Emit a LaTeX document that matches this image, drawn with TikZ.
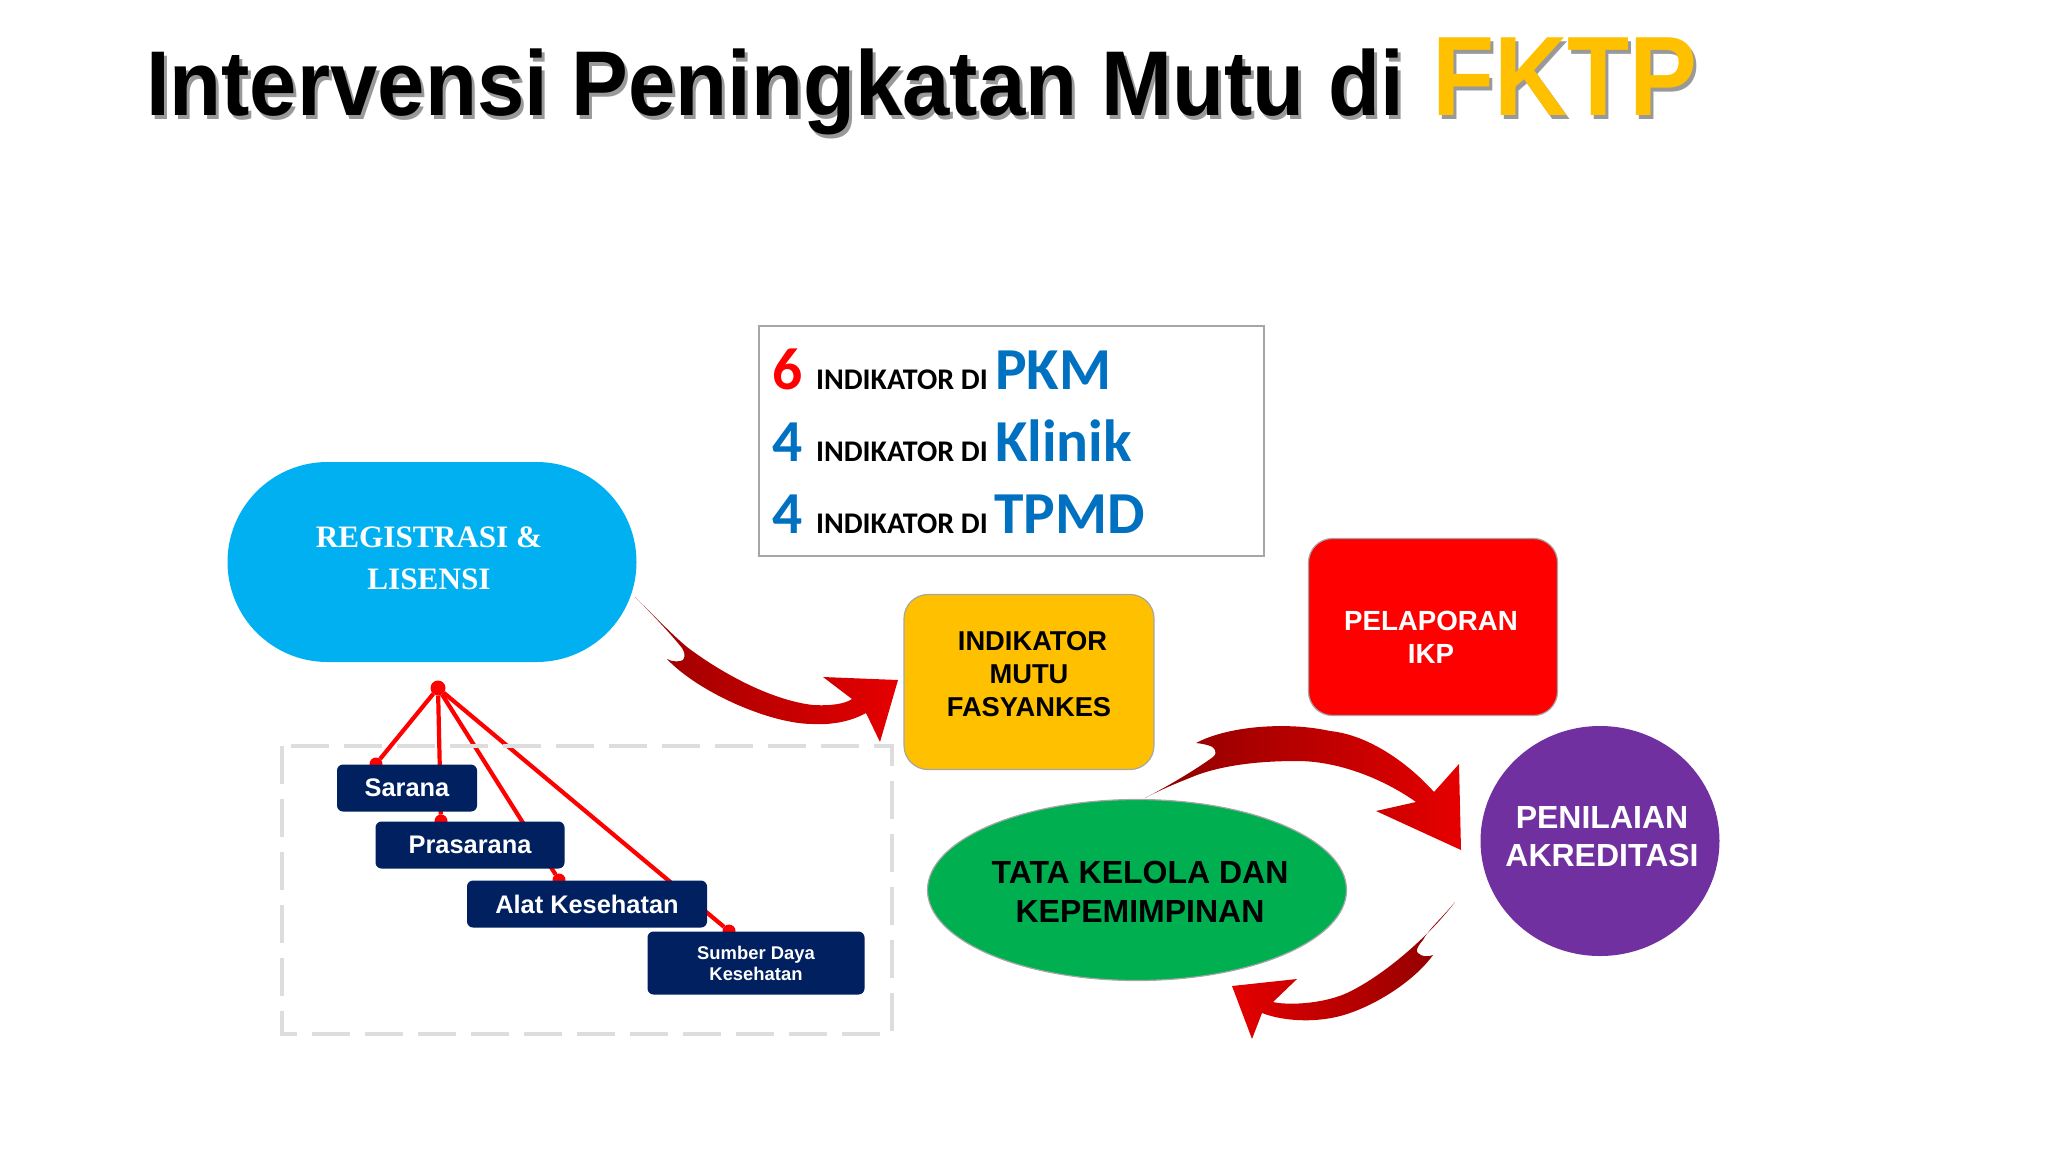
\documentclass[tikz,border=0pt]{standalone}
\usepackage{fontspec}
\setmainfont{Liberation Sans}
\newfontfamily\carlitofont{Carlito}
\newfontfamily\timesfont{Liberation Serif}
\newfontfamily\titlefont[FakeStretch=0.925]{Liberation Sans}
\newfontfamily\fktpfont[FakeStretch=0.9]{Liberation Sans}
\usepackage{tikz}
\usetikzlibrary{shapes.geometric}
\definecolor{skyBlue}{HTML}{00B0F0}
\definecolor{goldBox}{HTML}{FFC000}
\definecolor{redBox}{HTML}{FF0000}
\definecolor{purpleBox}{HTML}{7030A0}
\definecolor{greenBox}{HTML}{00B050}
\definecolor{navyBox}{HTML}{002060}
\definecolor{linkBlue}{HTML}{0070C0}
\definecolor{borderGray}{HTML}{A6A6A6}
\definecolor{dashGray}{HTML}{DDDDDD}
\definecolor{shadowGray}{HTML}{999999}
\newcommand{\fsize}[1]{\fontsize{#1}{#1}\selectfont}

\begin{document}
\begin{tikzpicture}[x=1pt, y=-1pt]%
  \tikzset{every node/.style={draw=none, outer sep=0pt, inner sep=0pt, align=center}}
  \tikzset{main box/.style={draw=borderGray, line width=1.2pt, font=\bfseries}}
  \tikzset{navy box/.style={fill=navyBox, rounded corners=6pt, text=white, font=\bfseries\fsize{25.4}}}
  \tikzset{red dot/.style={circle, fill=red, minimum size=13pt}}
  \tikzset{red link/.style={draw=red, line width=4.2pt}}
  \tikzset{big arrow/.style={draw=none}}
  \useasboundingbox (0,0) rectangle (2048,1152);

  % title
  \node[anchor=base west, text=shadowGray, font=\titlefont\bfseries\fsize{92}] at (149,119) (titleShadow) {Intervensi Peningkatan Mutu di};
  \node[anchor=base west, font=\titlefont\bfseries\fsize{92}] at (146,115) (title) {Intervensi Peningkatan Mutu di};
  \node[anchor=base west, text=shadowGray, font=\fktpfont\bfseries\fsize{113}] at (1435,119) (fktpShadow) {FKTP};
  \node[anchor=base west, text=goldBox, font=\fktpfont\bfseries\fsize{113}] at (1432,115) (fktp) {FKTP};

  % left part
  \node[fill=skyBlue, rounded corners=100pt, minimum width=409pt, minimum height=200pt] at (432,562) (registrasi) {};
  \node[text=white, font=\timesfont\bfseries\fsize{31.2}] at (429,558) (registrasiText) {REGISTRASI \&\\[11pt]LISENSI};

  \node[red dot, minimum size=15pt] at (438,688) (hub) {};
  \node[red dot] at (376,764) (dotSarana) {};
  \node[red dot] at (441,821) (dotPrasarana) {};
  \node[red dot] at (559,880) (dotAlat) {};
  \node[red dot] at (729,931) (dotSumber) {};
  \path[red link] (hub) edge (dotSarana);
  \path[red link] (hub) edge (dotPrasarana);
  \path[red link] (hub) edge (dotAlat);
  \path[red link] (hub) edge (dotSumber);

  \draw[dashGray, line width=4.5pt, dash pattern=on 38pt off 15pt] (282,746) rectangle (892,1034);

  \node[navy box, minimum width=140pt, minimum height=47pt] at (407,788) (sarana) {Sarana};
  \node[navy box, minimum width=189pt, minimum height=47pt] at (470,845) (prasarana) {Prasarana};
  \node[navy box, minimum width=240pt, minimum height=47pt] at (587,904) (alat) {Alat Kesehatan};
  \node[navy box, minimum width=217pt, minimum height=63pt, font=\bfseries\fsize{18.4}] at (756,963) (sumber) {Sumber Daya\\[2.6pt]Kesehatan};

  % indikator list
  \node[draw=borderGray, line width=2pt, minimum width=505pt, minimum height=230pt] at (1011,441) (listBox) {};
  \tikzset{list num/.style={anchor=base west, font=\carlitofont\bfseries\fsize{59.5}}}
  \tikzset{list word/.style={anchor=base west, font=\carlitofont\bfseries\fsize{30}}}
  \node[list num, text=red] at (772,389) (numA) {6};
  \node[list word] at (816,389) (wordA) {INDIKATOR DI};
  \node[list num, text=linkBlue] at (995,389) (pkm) {PKM};
  \node[list num, text=linkBlue] at (772,461) (numB) {4};
  \node[list word] at (816,461) (wordB) {INDIKATOR DI};
  \node[list num, text=linkBlue] at (995,461) (klinik) {Klinik};
  \node[list num, text=linkBlue] at (772,533) (numC) {4};
  \node[list word] at (816,533) (wordC) {INDIKATOR DI};
  \node[list num, text=linkBlue] at (994,533) (tpmd) {TPMD};

  % right part
  \node[main box, fill=goldBox, rounded corners=24pt, minimum width=250pt, minimum height=175pt] at (1029,682) (mutu) {};
  \node[font=\bfseries\fsize{27.3}] at (1029,674) (mutuText) {\hspace*{7pt}INDIKATOR\\[5.5pt]MUTU\\[5.5pt]FASYANKES};
  \node[main box, fill=redBox, rounded corners=24pt, minimum width=249pt, minimum height=177pt] at (1433,627) (pelaporan) {};
  \node[text=white, font=\bfseries\fsize{27.7}] at (1431,637) (pelaporanText) {PELAPORAN\\[5pt]IKP};
  \node[ellipse, fill=purpleBox, minimum width=239pt, minimum height=230pt] at (1600,841) (akreditasi) {};
  \node[text=white, font=\bfseries\fsize{32}] at (1602,837) (akreditasiText) {PENILAIAN\\[6pt]AKREDITASI};
  \node[main box, ellipse, fill=greenBox, minimum width=419pt, minimum height=181pt] at (1137,890) (tataKelola) {};
  \node[font=\bfseries\fsize{32}] at (1140,892) (tataText) {TATA KELOLA DAN\\[7pt]KEPEMIMPINAN};

  % curved arrows
  \shade[big arrow, left color=red!60!black, right color=red!90!black]
    (635,597) .. controls (660,622) and (675,637) .. (687,647)
    .. controls (720,672) and (770,700) .. (813,705)
    .. controls (830,706) and (845,704) .. (852,699)
    -- (823,677) -- (898,680) -- (880,742) -- (866,713)
    .. controls (850,722) and (830,725) .. (813,724)
    .. controls (770,724) and (698,692) .. (667,659)
    .. controls (672,662) and (680,662) .. (683,660)
    .. controls (686,656) and (684,651) .. (682,648)
    .. controls (670,633) and (650,612) .. (635,597) -- cycle;
  \shade[big arrow, left color=red!55!black, right color=red!90!black]
    (1145,798) .. controls (1170,785) and (1190,778) .. (1197,775)
    .. controls (1230,763) and (1270,761) .. (1297,761)
    .. controls (1340,761) and (1385,780) .. (1416,802)
    -- (1376,811) -- (1461,850) -- (1459,764) -- (1434,792)
    .. controls (1410,765) and (1370,735) .. (1330,731)
    .. controls (1290,722) and (1230,725) .. (1196,743)
    .. controls (1205,744) and (1214,746) .. (1215,750)
    .. controls (1216,754) and (1215,756) .. (1213,757)
    .. controls (1195,770) and (1170,785) .. (1145,798) -- cycle;
  \shade[big arrow, left color=red!90!black, right color=red!55!black]
    (1455,902) .. controls (1440,920) and (1428,930) .. (1423,940)
    .. controls (1416,948) and (1416,952) .. (1418,953)
    .. controls (1422,957) and (1428,957) .. (1433,955)
    .. controls (1415,980) and (1378,1004) .. (1347,1014)
    .. controls (1320,1023) and (1285,1022) .. (1262,1013)
    -- (1252,1039) -- (1232,986) -- (1297,979) -- (1273,1002)
    .. controls (1285,1005) and (1320,1005) .. (1347,993)
    .. controls (1385,975) and (1430,935) .. (1455,902) -- cycle;
\end{tikzpicture}
\end{document}
